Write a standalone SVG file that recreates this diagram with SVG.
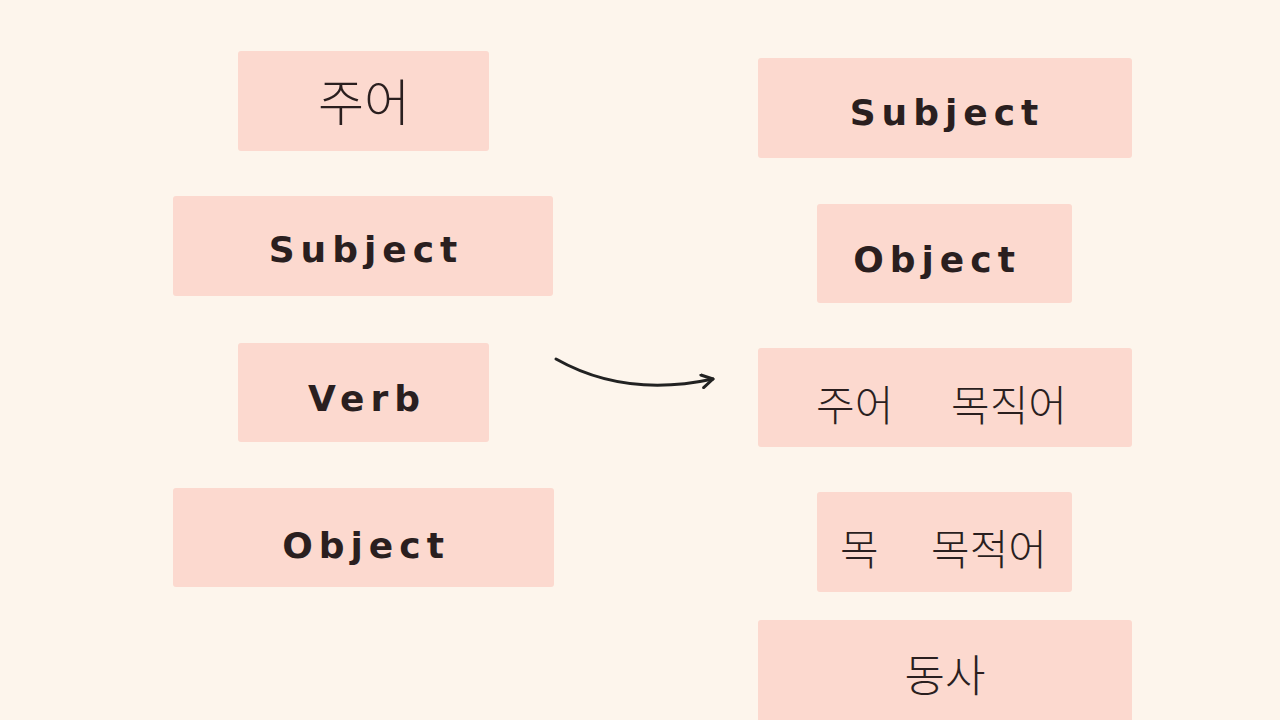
<svg xmlns="http://www.w3.org/2000/svg" width="1280" height="720" viewBox="0 0 1280 720">
<defs>
<style>
.box{fill:#FCD9CF;}
.en{font-family:"DejaVu Sans","Liberation Sans",sans-serif;font-weight:bold;font-size:36px;letter-spacing:6px;fill:#2a1f1f;text-anchor:middle;}
.ko{font-family:"Noto Sans CJK KR","Noto Sans",sans-serif;font-weight:300;fill:#2a1f1f;}
.conn{fill:none;stroke:#222;stroke-width:3;stroke-linecap:round;stroke-linejoin:round;}
</style>
<marker id="arr" viewBox="0 0 16 16" refX="14" refY="8" markerWidth="16" markerHeight="16" markerUnits="userSpaceOnUse" orient="auto">
<path d="M3,1.5 L14,8 L3,14.5" fill="none" stroke="#222" stroke-width="3" stroke-linecap="round" stroke-linejoin="round"/>
</marker>
</defs>
<rect width="1280" height="720" fill="#FDF5EC"/>
<g id="l1"><rect class="box" x="238" y="51" width="251" height="100" rx="3"/><text class="ko" x="364" y="121" font-size="50" text-anchor="middle">주어</text></g>
<g id="l2"><rect class="box" x="173" y="196" width="380" height="100" rx="3"/><text class="en" x="366" y="262">Subject</text></g>
<g id="l3"><rect class="box" x="238" y="343" width="251" height="99" rx="3"/><text class="en" x="367" y="411">Verb</text></g>
<g id="l4"><rect class="box" x="173" y="488" width="381" height="99" rx="3"/><text class="en" x="366" y="558">Object</text></g>
<g id="r1"><rect class="box" x="758" y="58" width="374" height="100" rx="3"/><text class="en" x="947" y="125">Subject</text></g>
<g id="r2"><rect class="box" x="817" y="204" width="255" height="99" rx="3"/><text class="en" x="937" y="272">Object</text></g>
<g id="r3"><rect class="box" x="758" y="348" width="374" height="99" rx="3"/><text class="ko" font-size="42" xml:space="preserve"><tspan x="816" y="421">주어</tspan> <tspan x="951" y="421">목직어</tspan></text></g>
<g id="r4"><rect class="box" x="817" y="492" width="255" height="100" rx="3"/><text class="ko" font-size="42" xml:space="preserve"><tspan x="840" y="565">목</tspan> <tspan x="931" y="565">목적어</tspan></text></g>
<g id="r5"><rect class="box" x="758" y="620" width="374" height="110" rx="3"/><text class="ko" x="945" y="692" font-size="44" text-anchor="middle">동사</text></g>
<g id="connectors">
<path class="conn" d="M556,359 Q625,398 713,379" marker-end="url(#arr)"/>
</g>
</svg>
